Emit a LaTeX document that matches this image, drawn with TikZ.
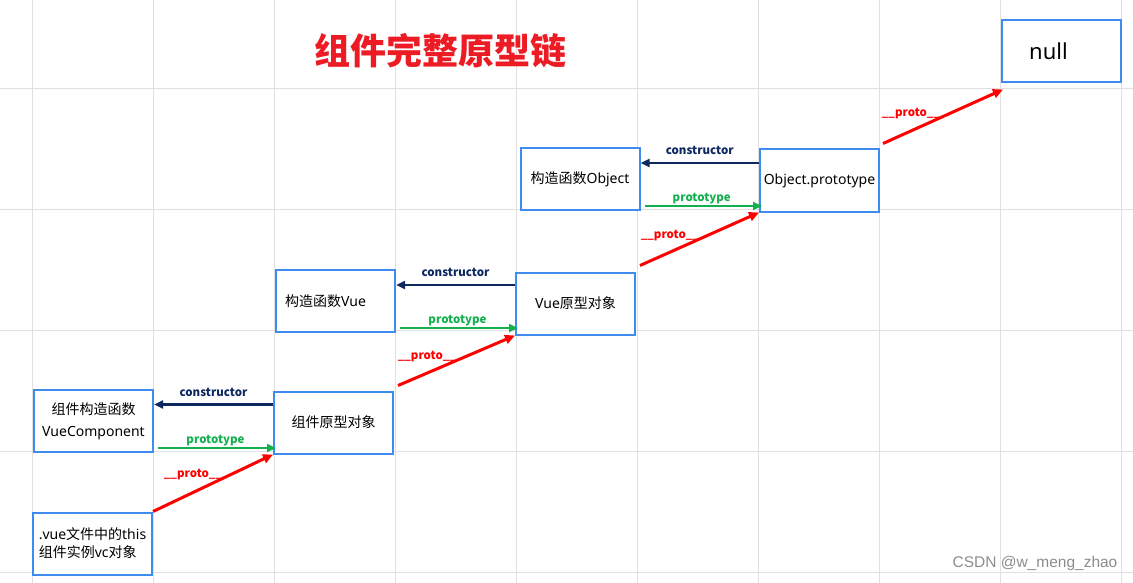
\documentclass[tikz,border=0pt]{standalone}
\usepackage{fontspec}
\setmainfont{Noto Sans}
\newfontfamily\cjk{Noto Sans CJK SC}
\newfontfamily\marksans{Liberation Sans}
\usetikzlibrary{arrows.meta}
\definecolor{boxblue}{RGB}{62,140,240}
\definecolor{gridgray}{RGB}{224,224,224}
\definecolor{ctorblue}{RGB}{14,40,96}
\definecolor{protogreen}{RGB}{20,176,80}
\definecolor{linkred}{RGB}{255,0,0}
\definecolor{titlered}{RGB}{237,28,36}
\tikzset{
  gridline/.style={draw=gridgray, line width=0.8pt},
  objbox/.style={draw=boxblue, line width=2pt, fill=white, minimum width=119pt,
    minimum height=62pt, inner sep=2pt, font=\fontsize{14}{18}\selectfont},
  ctorline/.style={draw=ctorblue, line width=2.5pt, -{Triangle[length=9pt,width=8pt]}},
  protoline/.style={draw=protogreen, line width=2.5pt, shorten >=-3pt, -{Triangle[length=9pt,width=8pt]}},
  linkline/.style={draw=linkred, line width=3pt, -{Triangle[length=10pt,width=9pt]}},
  ctorlabel/.style={text=ctorblue, font=\cjk\bfseries\fontsize{11.5}{14}\selectfont, inner sep=2pt, above=5pt},
  protolabel/.style={text=protogreen, font=\cjk\bfseries\fontsize{11.5}{14}\selectfont, inner sep=2pt, above=-1pt},
  linklabel/.style={text=linkred, font=\cjk\bfseries\fontsize{11.5}{14}\selectfont, inner sep=2pt, above left, xshift=3pt, yshift=-5pt},
}
\begin{document}
\begin{tikzpicture}[x=1pt,y=-1pt]
\useasboundingbox (0,0) rectangle (1133,583);
\foreach \gx in {32,153,...,1121} \draw[gridline] (\gx,0) -- (\gx,583);
\foreach \gy in {88,209,330,451,572} \draw[gridline] (0,\gy) -- (1133,\gy);

\node[text=titlered, font=\cjk\bfseries\fontsize{36}{40}\selectfont] (title) at (440,51) {组件完整原型链};

\node[objbox, align=left] (vc) at (92.5,543.5) {.vue{\cjk 文件中的}this\\{\cjk 组件实例}vc{\cjk 对象}};
\node[objbox, align=center] (vcc) at (93.5,421) {{\cjk 组件构造函数}\\[4pt]VueComponent};
\node[objbox] (cproto) at (333.5,422.5) {\cjk 组件原型对象};
\node[objbox] (vue) at (335.5,301) {{\cjk 构造函数}Vue\hspace*{20pt}};
\node[objbox] (vproto) at (575.5,303.5) {Vue{\cjk 原型对象}};
\node[objbox] (obj) at (580,179) {{\cjk 构造函数}Object};
\node[objbox] (oproto) at (819.5,180.5) {Object.prototype};
\node[objbox, font=\fontsize{22}{26}\selectfont] (null) at (1061.5,51.5) {null\hspace*{26pt}};

\coordinate (c1) at ([yshift=18pt]cproto.west);
\coordinate (p1) at ([xshift=4pt,yshift=-27pt]vcc.east);
\draw[ctorline] (c1) -- node[ctorlabel]{constructor} (c1 -| vcc.east);
\draw[protoline] (p1) -- node[protolabel]{prototype} (p1 -| cproto.west);
\draw[linkline] (vc.north east) -- node[linklabel, pos=0.58]{\_\_proto\_\_} (cproto.south west);

\coordinate (c2) at ([yshift=18.5pt]vproto.west);
\coordinate (p2) at ([xshift=4pt,yshift=-27pt]vue.east);
\draw[ctorline] (c2) -- node[ctorlabel]{constructor} (c2 -| vue.east);
\draw[protoline] (p2) -- node[protolabel]{prototype} (p2 -| vproto.west);
\draw[linkline] ([xshift=4pt,yshift=5pt]cproto.north east) -- node[linklabel, pos=0.5]{\_\_proto\_\_} (vproto.south west);

\coordinate (c3) at ([yshift=17.5pt]oproto.west);
\coordinate (p3) at ([xshift=4pt,yshift=-27pt]obj.east);
\draw[ctorline] (c3) -- node[ctorlabel]{constructor} (c3 -| obj.east);
\draw[protoline] (p3) -- node[protolabel]{prototype} (p3 -| oproto.west);
\draw[linkline] ([xshift=4pt,yshift=6pt]vproto.north east) -- node[linklabel, pos=0.5]{\_\_proto\_\_} (oproto.south west);

\draw[linkline] ([xshift=3pt,yshift=5pt]oproto.north east) -- node[linklabel, pos=0.48]{\_\_proto\_\_} ([xshift=2pt,yshift=-6pt]null.south west);

\node[text=black!45, font=\marksans\fontsize{15.5}{17}\selectfont] (mark) at (1035,563) {CSDN @w\_meng\_zhao};
\end{tikzpicture}
\end{document}
